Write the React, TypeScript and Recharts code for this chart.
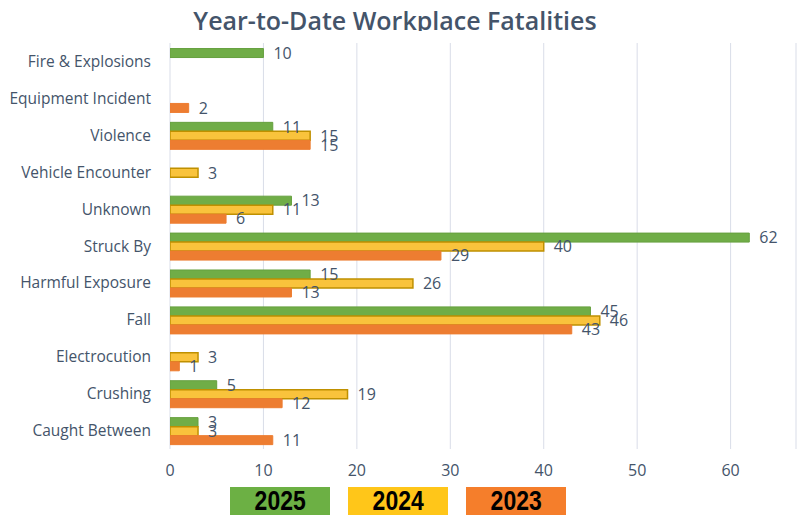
import React from 'react';
import { BarChart, Bar, XAxis, YAxis, CartesianGrid, LabelList, Legend } from 'recharts';

const categories = [
  'Fire & Explosions',
  'Equipment Incident',
  'Violence',
  'Vehicle Encounter',
  'Unknown',
  'Struck By',
  'Harmful Exposure',
  'Fall',
  'Electrocution',
  'Crushing',
  'Caught Between',
];
const fatalities2025 = [10, null, 11, null, 13, 62, 15, 45, null, 5, 3];
const fatalities2024 = [null, null, 15, 3, 11, 40, 26, 46, 3, 19, 3];
const fatalities2023 = [null, 2, 15, null, 6, 29, 13, 43, 1, 12, 11];
const xTicks = [0, 10, 20, 30, 40, 50, 60];

const series = [
  { key: 'y2025', name: '2025', fill: '#70ad47', stroke: '#66a03f', legend: '#6cb044' },
  { key: 'y2024', name: '2024', fill: '#f9c33c', stroke: '#bf9000', legend: '#ffc619' },
  { key: 'y2023', name: '2023', fill: '#ed7d31', stroke: '#ed7d31', legend: '#f57e2b' },
];

const data = categories.map((name, i) => ({
  name,
  y2025: fatalities2025[i],
  y2024: fatalities2024[i],
  y2023: fatalities2023[i],
}));

const FONT = '"Open Sans", "Noto Sans", sans-serif';
const TEXT = '#44546a';

const ValueLabel = (props: any) => {
  const { x, y, width, height, value } = props;
  if (value === null || value === undefined) return null;
  return (
    <text
      x={x + width + 10}
      y={y + height / 2}
      dy="0.36em"
      fill={TEXT}
      fontSize={16}
      fontFamily={FONT}
    >
      {value}
    </text>
  );
};

// boxed year keys under the axis
const YearLegend = () => (
  <div style={{ display: 'flex', gap: 18, paddingLeft: 230, paddingTop: 8 }}>
    {series.map((s) => (
      <div
        key={s.key}
        style={{
          width: 100,
          height: 28,
          background: s.legend,
          textAlign: 'center',
        }}
      >
        <span
          style={{
            display: 'inline-block',
            transform: 'scaleX(0.82)',
            color: '#000',
            fontFamily: '"Liberation Sans", Arial, sans-serif',
            fontWeight: 700,
            fontSize: 28,
            lineHeight: '28px',
          }}
        >
          {s.name}
        </span>
      </div>
    ))}
  </div>
);

export default function App() {
  return (
    <div style={{ position: 'absolute', left: 0, top: 0, width: 800, height: 527, background: '#fff' }}>
      <BarChart
        width={800}
        height={527}
        data={data}
        layout="vertical"
        margin={{ top: 43, right: 4, bottom: 0, left: 0 }}
        barCategoryGap="15%"
        barGap={0}
      >
        <CartesianGrid horizontal={false} stroke="#d9dde8" />
        <XAxis
          type="number"
          domain={[0, 67]}
          ticks={xTicks}
          allowDataOverflow
          axisLine={false}
          tickLine={false}
          tickSize={0}
          tickMargin={16}
          height={30}
          tick={{ fill: TEXT, fontSize: 16, fontFamily: FONT }}
        />
        <YAxis
          type="category"
          dataKey="name"
          width={170}
          axisLine={false}
          tickLine={false}
          tickSize={0}
          tickMargin={19}
          interval={0}
          tick={{ fill: TEXT, fontSize: 15.5, fontFamily: FONT }}
        />
        <Legend verticalAlign="bottom" height={48} content={<YearLegend />} />
        {series.map((s) => (
          <Bar
            key={s.key}
            dataKey={s.key}
            name={s.name}
            fill={s.fill}
            stroke={s.stroke}
            strokeWidth={s.key === 'y2024' ? 1.5 : 1}
            isAnimationActive={false}
          >
            <LabelList dataKey={s.key} content={<ValueLabel />} />
          </Bar>
        ))}
      </BarChart>
      <div
        style={{
          position: 'absolute',
          left: 0,
          top: 0,
          width: 800,
          height: 31,
          overflow: 'hidden',
          textAlign: 'center',
        }}
      >
        <div
          style={{
            marginLeft: -10,
            fontFamily: FONT,
            fontSize: 25,
            fontWeight: 600,
            color: TEXT,
            lineHeight: '40px',
            whiteSpace: 'nowrap',
          }}
        >
          Year-to-Date Workplace Fatalities
        </div>
      </div>
    </div>
  );
}
